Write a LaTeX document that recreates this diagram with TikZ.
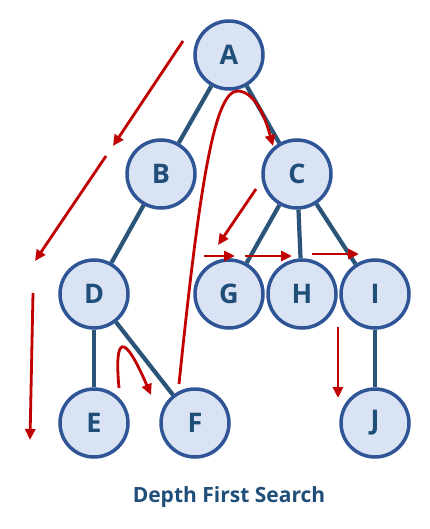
\documentclass[tikz,border=0pt]{standalone}
\usepackage{fontspec}
\setsansfont{Open Sans}
\usetikzlibrary{arrows.meta,positioning}
\definecolor{nodefill}{HTML}{DAE3F3}
\definecolor{nodeline}{HTML}{2F5597}
\definecolor{edgeblue}{HTML}{2A5478}
\definecolor{textblue}{HTML}{1F4E79}
\definecolor{walkred}{HTML}{C00000}

\begin{document}
\begin{tikzpicture}[x=1pt,y=-1pt,>={Triangle[length=11pt,width=10pt]},on grid]
  \tikzstyle{vertex}=[circle,fill=nodefill,draw=nodeline,line width=3.5pt,minimum size=68pt,inner sep=0pt,text=textblue,font=\sffamily\bfseries\fontsize{27}{27}\selectfont]
  \tikzstyle{branch}=[draw=edgeblue,line width=4.2pt]
  \tikzstyle{walk}=[->,draw=walkred,line width=2.8pt]
  \useasboundingbox (0,0) rectangle (430,529);

  \node[vertex] (A) at (229,55)               {A};
  \node[vertex] (B) [below left=119pt and 68pt of A]  {B};
  \node[vertex] (C) [below right=119pt and 68pt of A] {C};
  \node[vertex] (D) [below left=120pt and 67pt of B]  {D};
  \node[vertex] (G) [below left=120pt and 68pt of C]  {G};
  \node[vertex] (H) [right=73pt of G]         {H};
  \node[vertex] (I) [right=73pt of H]         {I};
  \node[vertex] (E) [below=129pt of D]        {E};
  \node[vertex] (F) [right=101pt of E]        {F};
  \node[vertex] (J) [below=129pt of I]        {J};

  \path[branch] (A) edge (B)
        (A) edge (C)
        (B) edge (D)
        (C) edge (G)
        (C) edge (H)
        (C) edge (I)
        (D) edge (E)
        (D) edge (F)
        (I) edge (J);

  % search order
  \draw[walk] (183,41) -- (113,146);
  \draw[walk] (106,156) -- (35,261);
  \draw[walk] (33,293) -- (30,440);
  \draw[walk] (119,388) .. controls (114,335) and (124,332) .. (151,395);
  \draw[walk] (179,384) .. controls (200,180) and (215,90) .. (238,91) .. controls (256,92) and (266,120) .. (273,146);
  \draw[walk] (256,189) -- (218,245);
  \draw[walk] (204,256) -- (235,256);
  \draw[walk] (245,256) -- (292,256);
  \draw[walk] (312,254) -- (359,254);
  \draw[walk] (338,327) -- (338,398);

  \node[text=textblue,font=\sffamily\bfseries\fontsize{21}{21}\selectfont] (title) at (229,497) {Depth First Search};
\end{tikzpicture}
\end{document}
